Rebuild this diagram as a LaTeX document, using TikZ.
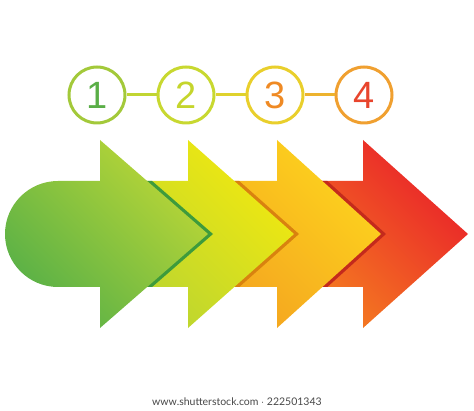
\documentclass[tikz,border=0pt]{standalone}
\usepackage{fontspec}
\setmainfont{Liberation Sans}
\newfontfamily\footfont{Lato}

% arrow colours (bottom left -> top right)
\definecolor{arrowOneLo}{HTML}{58B047}
\definecolor{arrowOneHi}{HTML}{BCD736}
\definecolor{arrowTwoLo}{HTML}{B8D432}
\definecolor{arrowTwoHi}{HTML}{F2E90F}
\definecolor{arrowThreeLo}{HTML}{F4A21F}
\definecolor{arrowThreeHi}{HTML}{FDD41E}
\definecolor{arrowFourLo}{HTML}{F58220}
\definecolor{arrowFourHi}{HTML}{E9202A}
% shadows under the heads
\definecolor{shadowOne}{HTML}{3E9B3C}
\definecolor{shadowTwo}{HTML}{D9820F}
\definecolor{shadowThree}{HTML}{C42A1C}
% step circles
\definecolor{ringOne}{HTML}{A3C93A}
\definecolor{ringTwo}{HTML}{C8D830}
\definecolor{ringThree}{HTML}{E9CF2C}
\definecolor{ringFour}{HTML}{F0A030}
\definecolor{digitOne}{HTML}{5AAE47}
\definecolor{digitTwo}{HTML}{C5D52C}
\definecolor{digitThree}{HTML}{EF8A24}
\definecolor{digitFour}{HTML}{E8452D}

\begin{document}
\begin{tikzpicture}[x=1pt, y=1pt,
    stepnum/.style={circle, draw, line width=3pt, minimum size=56pt,
        inner sep=0pt, font=\fontsize{38}{40}\selectfont},
    link/.style={line width=3pt},
    grad/.style 2 args={bottom color=#1, top color=#2, shading angle=-45},
]
\useasboundingbox (0,0) rectangle (474,410);

% numbered steps
\node[stepnum, draw=ringOne, text=digitOne] (one) at (97,315) {1};
\node[stepnum, draw=ringTwo, text=digitTwo] (two) at (186,315) {2};
\node[stepnum, draw=ringThree, text=digitThree] (three) at (275,315) {3};
\node[stepnum, draw=ringFour, text=digitFour] (four) at (364,315) {4};
\draw[link, ringTwo!80!ringOne] (one) -- (two);
\draw[link, ringThree!70!ringTwo] (two) -- (three);
\draw[link, ringFour!60!ringThree] (three) -- (four);

% arrow 4 (back)
\shade[grad={arrowFourLo}{arrowFourHi}]
    (277,229) --  % body top
    (363,229) --
    (363,270) --  % head top
    (468,176) --  % tip
    (363,82) --   % head bottom
    (363,123) --
    (277,123) -- cycle;
\begin{scope}
  \clip (277,229) -- (363,229) -- (363,270) -- (468,176) --
      (363,82) -- (363,123) -- (277,123) -- cycle;
  \fill[shadowThree] (282,270) -- (386,176) -- (282,82) -- cycle;
\end{scope}

% arrow 3
\shade[grad={arrowThreeLo}{arrowThreeHi}]
    (188,229) --  % body top
    (277,229) --
    (277,270) --  % head top
    (381,176) --  % tip
    (277,82) --   % head bottom
    (277,123) --
    (188,123) -- cycle;
\begin{scope}
  \clip (188,229) -- (277,229) -- (277,270) -- (381,176) --
      (277,82) -- (277,123) -- (188,123) -- cycle;
  \fill[shadowTwo] (193,270) -- (299,176) -- (193,82) -- cycle;
\end{scope}

% arrow 2
\shade[grad={arrowTwoLo}{arrowTwoHi}]
    (100,229) --  % body top
    (188,229) --
    (188,270) --  % head top
    (294,176) --  % tip
    (188,82) --   % head bottom
    (188,123) --
    (100,123) -- cycle;
\begin{scope}
  \clip (100,229) -- (188,229) -- (188,270) -- (294,176) --
      (188,82) -- (188,123) -- (100,123) -- cycle;
  \fill[shadowOne] (105,270) -- (213,176) -- (105,82) -- cycle;
\end{scope}

% arrow 1 (front, round tail)
\shade[grad={arrowOneLo}{arrowOneHi}]
    (58,229) --   % body top
    (100,229) --
    (100,270) --  % head top
    (208,176) --  % tip
    (100,82) --   % head bottom
    (100,123) --
    (58,123) arc[start angle=270, end angle=90, radius=53] -- cycle;

% footer
\node[font=\footfont\fontsize{10.5}{12}\selectfont, text=black!72] (credit)
    at (237,8) {www.shutterstock.com $\cdot$ 222501343};

\end{tikzpicture}
\end{document}
